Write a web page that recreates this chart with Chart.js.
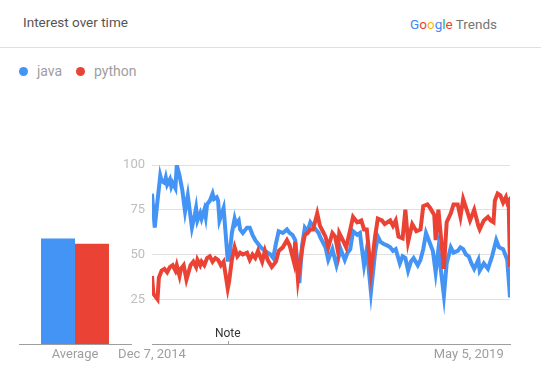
<!DOCTYPE html>
<html>
<head>
<meta charset="utf-8">
<script src="https://cdn.jsdelivr.net/npm/chart.js@4/dist/chart.umd.min.js"></script>
<style>
    body { margin: 0; background: #fff; font-family: Roboto, sans-serif; }
    #page { position: relative; width: 541px; height: 373px; overflow: hidden; }
    .abs { position: absolute; white-space: nowrap; }
    #title { left: 23px; top: 13px; font-size: 13.5px; line-height: 18px; color: #555; }
    #brand { right: 44px; top: 15px; font-size: 13.5px; line-height: 18px; color: #757575; }
    #divider { left: 0; top: 47px; width: 541px; height: 1px; background: #e0e0e0; }
    .legend { top: 62px; font-size: 14px; line-height: 18px; color: #9e9e9e; }
    .dot { display: inline-block; width: 9px; height: 9px; border-radius: 50%; margin-right: 9px; }
    canvas { position: absolute; top: 150px; }
</style>
</head>
<body>
<div id="page">
    <div id="title" class="abs">Interest over time</div>
    <div id="brand" class="abs"><span style="color:#4285f4">G</span><span style="color:#ea4335">o</span><span style="color:#fbbc05">o</span><span style="color:#4285f4">g</span><span style="color:#34a853">l</span><span style="color:#ea4335">e</span> Trends</div>
    <div id="divider" class="abs"></div>
    <div class="abs legend" style="left:19px"><span class="dot" style="background:#4394f5"></span>java</div>
    <div class="abs legend" style="left:76px"><span class="dot" style="background:#ea4335"></span>python</div>
    <canvas id="avg-graph" width="140" height="223" style="left:0"></canvas>
    <canvas id="trend-graph" width="441" height="223" style="left:100px"></canvas>
</div>
<script>
var seriesNames = ['java', 'python'];
var seriesColors = ['#4394f5', '#ea4335'];
var averages = [59, 56];

// week index counted from Dec 7, 2014
var javaWeeks = [0, 2, 4, 6, 7, 9, 10, 11, 13, 14, 15, 17, 18, 20, 22, 24, 26, 29, 31, 32, 33, 35, 36, 38, 39, 40, 42, 44, 45, 47, 48, 49, 52, 55, 56, 58, 60, 61, 63, 64, 66, 69, 71, 73, 75, 77, 79, 82, 84, 86, 88, 90, 92, 95, 98, 100, 102, 104, 107, 109, 111, 113, 115, 117, 119, 121, 122, 124, 126, 128, 131, 134, 137, 140, 142, 144, 146, 149, 151, 154, 156, 159, 162, 164, 166, 168, 171, 173, 175, 177, 180, 182, 184, 186, 188, 190, 193, 195, 197, 199, 202, 204, 206, 208, 212, 214, 217, 219, 222, 224, 226, 228, 230, 232, 234, 237, 238, 241, 244, 247, 250, 252, 255, 257, 258, 260];
var javaValues = [84, 65, 80, 94, 91, 90, 93, 89, 92, 88, 90, 87, 100, 94, 86, 74, 83, 65, 72, 76, 69, 73, 70, 75, 71, 78, 80, 84, 81, 82, 80, 69, 76, 47, 47, 62, 70, 67, 69, 64, 62, 65, 65, 61, 58, 56, 54, 52, 51, 50, 48, 56, 63, 62, 64, 62, 61, 58, 34, 55, 65, 63, 68, 66, 64, 62, 60, 57, 54, 47, 53, 44, 53, 47, 51, 53, 63, 61, 62, 44, 53, 29, 51, 60, 57, 56, 55, 54, 52, 53, 45, 49, 48, 41, 46, 48, 44, 47, 53, 62, 56, 52, 40, 53, 27, 45, 54, 51, 52, 54, 53, 50, 49, 45, 42, 47, 41, 45, 42, 49, 58, 54, 53, 49, 47, 26];

var pythonWeeks = [0, 1, 4, 5, 7, 9, 11, 13, 15, 17, 18, 20, 21, 23, 25, 28, 30, 32, 33, 35, 36, 38, 40, 42, 44, 46, 48, 50, 52, 55, 56, 58, 60, 62, 64, 66, 69, 71, 73, 75, 77, 80, 82, 84, 87, 90, 92, 95, 98, 100, 103, 104, 106, 109, 111, 113, 115, 117, 120, 122, 124, 126, 128, 131, 133, 135, 136, 138, 141, 144, 146, 149, 152, 154, 156, 159, 162, 164, 167, 169, 171, 173, 175, 177, 179, 182, 184, 186, 189, 192, 195, 197, 200, 202, 205, 206, 208, 212, 214, 217, 219, 222, 224, 226, 229, 231, 234, 237, 238, 241, 244, 246, 248, 249, 251, 253, 255, 257, 258, 259, 260];
var pythonValues = [38, 28, 25, 37, 41, 42, 40, 43, 44, 41, 44, 38, 42, 44, 36, 44, 46, 43, 47, 44, 46, 44, 48, 49, 46, 48, 47, 44, 46, 31, 35, 47, 54, 49, 51, 50, 51, 47, 50, 48, 52, 46, 52, 47, 43, 46, 52, 54, 58, 55, 46, 57, 36, 53, 61, 62, 64, 64, 73, 66, 63, 60, 54, 62, 60, 52, 62, 59, 54, 64, 71, 68, 69, 64, 64, 40, 60, 70, 69, 67, 68, 69, 66, 69, 60, 59, 75, 57, 67, 63, 64, 77, 78, 76, 72, 58, 75, 42, 68, 73, 78, 78, 71, 81, 74, 69, 75, 66, 64, 69, 71, 69, 68, 80, 84, 83, 79, 82, 79, 80, 43];

var xTickWeeks = [0, 230];
var xTickLabels = ['Dec 7, 2014', 'May 5, 2019'];
var yTicks = [25, 50, 75, 100];
var noteWeek = 55;

function toPoints(weeks, values) {
    return weeks.map(function(w, i) { return { x: w, y: values[i] }; });
}

var axisGrey = '#9e9e9e';

// left panel: averages
new Chart(document.getElementById('avg-graph'), {
    type: 'bar',
    data: {
        labels: ['Average'],
        datasets: seriesNames.map(function(name, i) {
            return {
                label: name,
                data: [averages[i]],
                backgroundColor: seriesColors[i],
                categoryPercentage: 0.607,
                barPercentage: 1.0
            };
        })
    },
    options: {
        responsive: false,
        animation: false,
        layout: { padding: { left: 19, right: 9, top: 15, bottom: 0 } },
        plugins: { legend: { display: false }, tooltip: { enabled: false } },
        scales: {
            x: {
                grid: { display: false, drawTicks: false },
                border: { display: true, color: axisGrey, width: 1 },
                ticks: { color: axisGrey, font: { family: 'Roboto', size: 13 }, padding: 3 },
                afterFit: function(s) { s.height = 29; }
            },
            y: { display: false, min: 0, max: 100 }
        }
    }
});

var notePlugin = {
    id: 'note',
    afterDraw: function(chart) {
        var ctx = chart.ctx;
        var x = chart.scales.x.getPixelForValue(noteWeek);
        var bottom = chart.chartArea.bottom;
        ctx.save();
        ctx.strokeStyle = axisGrey;
        ctx.lineWidth = 1;
        ctx.beginPath();
        ctx.moveTo(Math.round(x) + 0.5, bottom - 3);
        ctx.lineTo(Math.round(x) + 0.5, bottom);
        ctx.stroke();
        ctx.fillStyle = '#333';
        ctx.font = '12px Roboto';
        ctx.textAlign = 'center';
        ctx.textBaseline = 'middle';
        ctx.fillText('Note', x, bottom - 10);
        ctx.restore();
    }
};

// right panel: interest over time
new Chart(document.getElementById('trend-graph'), {
    type: 'line',
    data: {
        datasets: [{
            label: seriesNames[0],
            data: toPoints(javaWeeks, javaValues),
            borderColor: seriesColors[0],
            borderWidth: 4,
            pointRadius: 0,
            tension: 0,
            order: 1
        }, {
            label: seriesNames[1],
            data: toPoints(pythonWeeks, pythonValues),
            borderColor: seriesColors[1],
            borderWidth: 4,
            pointRadius: 0,
            tension: 0,
            order: 0
        }]
    },
    options: {
        responsive: false,
        animation: false,
        layout: { padding: { left: 0, right: 31, top: 15, bottom: 0 } },
        plugins: { legend: { display: false }, tooltip: { enabled: false } },
        scales: {
            x: {
                type: 'linear',
                min: 0,
                max: 260,
                grid: { display: false, drawTicks: false },
                border: { display: true, color: axisGrey, width: 1 },
                ticks: {
                    color: axisGrey,
                    font: { family: 'Roboto', size: 13 },
                    padding: 3,
                    maxRotation: 0,
                    autoSkip: false,
                    callback: function(v) {
                        var i = xTickWeeks.indexOf(v);
                        return i >= 0 ? xTickLabels[i] : '';
                    }
                },
                afterBuildTicks: function(s) {
                    s.ticks = xTickWeeks.map(function(v) { return { value: v }; });
                },
                afterFit: function(s) { s.height = 29; }
            },
            y: {
                min: 0,
                max: 100,
                grid: { color: '#e0e0e0', drawTicks: false },
                border: { display: false },
                ticks: {
                    color: '#bdbdbd',
                    font: { family: 'Roboto', size: 13 },
                    padding: 7
                },
                afterBuildTicks: function(s) {
                    s.ticks = yTicks.map(function(v) { return { value: v }; });
                },
                afterFit: function(s) { s.width = 52; }
            }
        }
    },
    plugins: [notePlugin]
});
</script>
</body>
</html>
